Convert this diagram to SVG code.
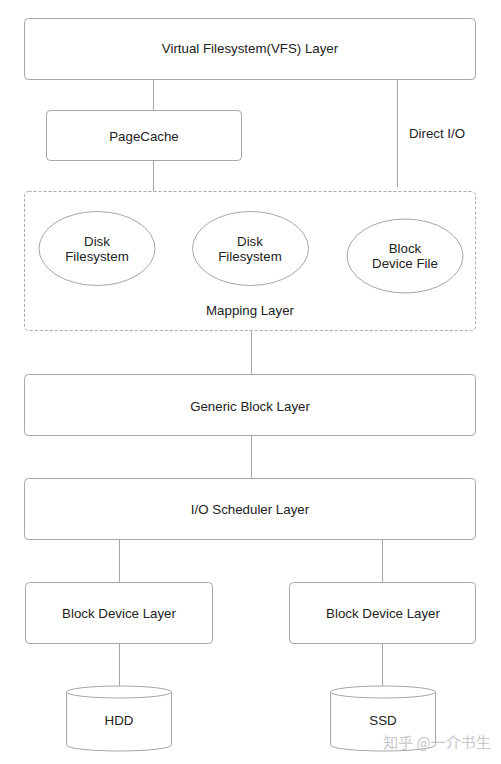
<svg xmlns="http://www.w3.org/2000/svg" width="501" height="764" viewBox="0 0 501 764">
<style>
.box{fill:#fff;stroke:#a6a6a6;stroke-width:1}
.dash{fill:none;stroke:#aaa;stroke-width:1;stroke-dasharray:3 2}
.ln{stroke:#a6a6a6;stroke-width:1;fill:none}
text{font-family:"Helvetica","Liberation Sans",Arial,sans-serif;font-size:13.3px;fill:#222;text-anchor:middle}
</style>
<rect width="501" height="764" fill="#fff"/>
<g id="connectors">
<line class="ln" x1="153.5" y1="79" x2="153.5" y2="110"/>
<line class="ln" x1="153.5" y1="160" x2="153.5" y2="191"/>
<line class="ln" x1="397.5" y1="79" x2="397.5" y2="187"/>
<line class="ln" x1="251.5" y1="331" x2="251.5" y2="374"/>
<line class="ln" x1="251.5" y1="436" x2="251.5" y2="478"/>
<line class="ln" x1="119.5" y1="540" x2="119.5" y2="582"/>
<line class="ln" x1="382.5" y1="540" x2="382.5" y2="582"/>
<line class="ln" x1="119.5" y1="643" x2="119.5" y2="686"/>
<line class="ln" x1="382.5" y1="643" x2="382.5" y2="686"/>
</g>
<g id="vfs"><rect class="box" x="24.5" y="18.5" width="451" height="61" rx="4"/><text x="250" y="53">Virtual Filesystem(VFS) Layer</text></g>
<g id="pagecache"><rect class="box" x="46.5" y="110.5" width="195" height="50" rx="4"/><text x="144" y="141">PageCache</text></g>
<g id="directio-label"><text x="437" y="138">Direct I/O</text></g>
<g id="mapping"><rect class="dash" x="24.5" y="191.5" width="451" height="139" rx="4"/><text x="250" y="315">Mapping Layer</text></g>
<g id="diskfs1"><ellipse class="box" cx="97" cy="248.5" rx="58" ry="37"/><text x="97" y="246">Disk</text><text x="97" y="261">Filesystem</text></g>
<g id="diskfs2"><ellipse class="box" cx="250.5" cy="248.5" rx="58" ry="37"/><text x="250" y="246">Disk</text><text x="250" y="261">Filesystem</text></g>
<g id="blockdevfile"><ellipse class="box" cx="405" cy="256" rx="58" ry="37"/><text x="405" y="253">Block</text><text x="405" y="268">Device File</text></g>
<g id="generic"><rect class="box" x="24.5" y="374.5" width="451" height="61" rx="4"/><text x="250" y="411">Generic Block Layer</text></g>
<g id="iosched"><rect class="box" x="24.5" y="478.5" width="451" height="61" rx="4"/><text x="250" y="514">I/O Scheduler Layer</text></g>
<g id="bdl1"><rect class="box" x="25.5" y="582.5" width="187" height="61" rx="4"/><text x="119" y="618">Block Device Layer</text></g>
<g id="bdl2"><rect class="box" x="289.5" y="582.5" width="186" height="61" rx="4"/><text x="383" y="618">Block Device Layer</text></g>
<g id="hdd"><path class="box" d="M66.5 692 L66.5 745 A52.5 6 0 0 0 171.5 745 L171.5 692 A52.5 6 0 0 0 66.5 692 Z"/><path class="ln" d="M66.5 692 A52.5 6 0 0 0 171.5 692"/><text x="119" y="725">HDD</text></g>
<g id="ssd"><path class="box" d="M330.5 692 L330.5 745 A52.5 6 0 0 0 435.5 745 L435.5 692 A52.5 6 0 0 0 330.5 692 Z"/><path class="ln" d="M330.5 692 A52.5 6 0 0 0 435.5 692"/><text x="383" y="725">SSD</text></g>
<g id="watermark"><text x="437" y="748" style="font-family:'Noto Sans CJK SC',sans-serif;font-size:15px;fill:#c8c8c8">知乎 @一介书生</text></g>
</svg>
